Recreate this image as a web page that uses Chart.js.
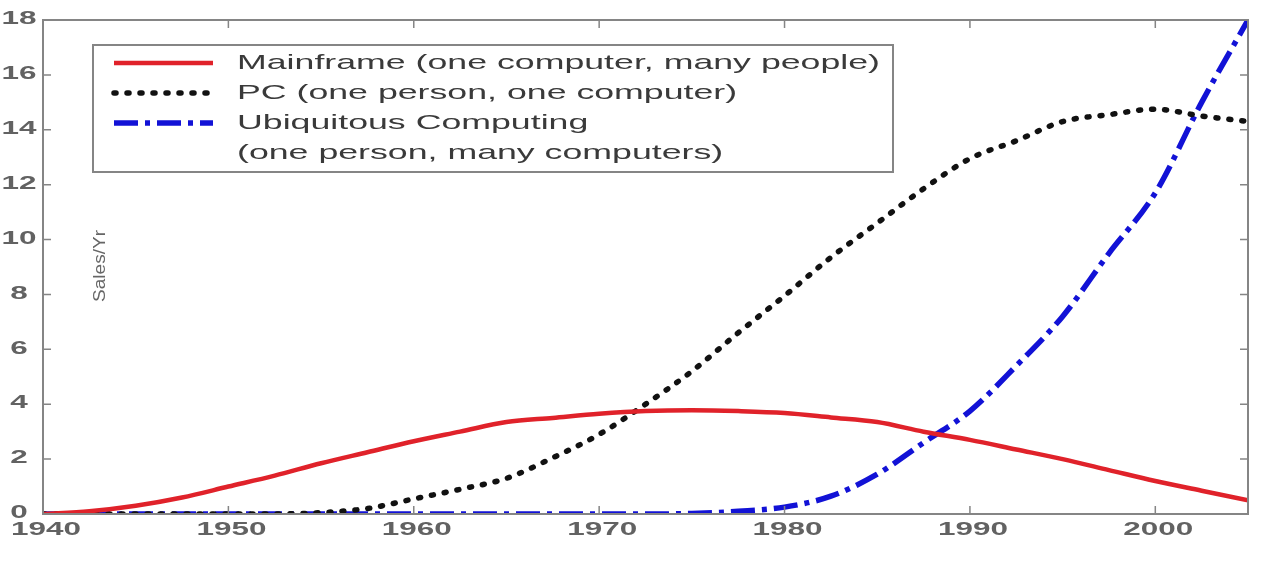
<!DOCTYPE html>
<html>
<head>
<meta charset="utf-8">
<script src="https://cdn.jsdelivr.net/npm/chart.js@4/dist/chart.umd.min.js"></script>
<style>
  html, body { margin: 0; padding: 0; background: #fff; }
  #wrap { width: 1287px; height: 562px; }
</style>
</head>
<body>
<div id="wrap"><canvas id="salesChart"></canvas></div>
<script>
// Years on the x axis (every 2.5 years)
const years = [1940, 1942.5, 1945, 1947.5, 1950, 1952.5, 1955, 1957.5, 1960, 1962.5,
               1965, 1967.5, 1970, 1972.5, 1975, 1977.5, 1980, 1982.5, 1985, 1987.5,
               1990, 1992.5, 1995, 1997.5, 2000, 2002.5, 2005];

// Sales/Yr
const mainframe = [0, 0.1, 0.3, 0.6, 1.0, 1.4, 1.85, 2.25, 2.65, 3.0,
                   3.35, 3.5, 3.65, 3.75, 3.78, 3.75, 3.68, 3.52, 3.35, 3.0,
                   2.7, 2.35, 2.0, 1.6, 1.2, 0.85, 0.5];
const pc = [0, 0, 0, 0, 0, 0, 0.05, 0.2, 0.55, 0.9,
            1.3, 2.05, 2.9, 4.0, 5.2, 6.6, 7.95, 9.35, 10.6, 11.85,
            12.95, 13.6, 14.3, 14.55, 14.75, 14.5, 14.3];
const ubiquitous = [0, 0, 0, 0, 0, 0, 0, 0, 0, 0,
                    0, 0, 0, 0, 0.02, 0.1, 0.25, 0.65, 1.45, 2.6,
                    3.75, 5.4, 7.2, 9.5, 11.7, 15.0, 18];

// Tick labels
const xTicks = [1940, 1950, 1960, 1970, 1980, 1990, 2000];
const yTicks = [0, 2, 4, 6, 8, 10, 12, 14, 16, 18];

const legendLabels = [
    ['Mainframe (one computer, many people)'],
    ['PC (one person, one computer)'],
    ['Ubiquitous Computing', '(one person, many computers)']
];

function points(values) {
    return years.map((y, i) => ({ x: y, y: values[i] }));
}

const RED = '#e0222a';
const BLACK = '#111111';
const BLUE = '#1212d6';
const AXIS = '#858585';

// draw text stretched horizontally
function stretchText(ctx, text, x, y, sx, align) {
    ctx.save();
    ctx.translate(x, y);
    ctx.scale(sx, 1);
    ctx.textAlign = align;
    ctx.fillText(text, 0, 0);
    ctx.restore();
}

const matlabAxes = {
    id: 'matlabAxes',
    afterDatasetsDraw(chart) {
        const ctx = chart.ctx;
        const a = chart.chartArea;
        const xs = chart.scales.x;
        const ys = chart.scales.y;

        ctx.save();
        // box
        ctx.strokeStyle = AXIS;
        ctx.lineWidth = 2;
        ctx.strokeRect(a.left, a.top, a.right - a.left, a.bottom - a.top);

        // inward ticks on all four sides
        ctx.lineWidth = 1.5;
        ctx.beginPath();
        xTicks.forEach(v => {
            const px = xs.getPixelForValue(v);
            ctx.moveTo(px, a.bottom); ctx.lineTo(px, a.bottom - 8);
            ctx.moveTo(px, a.top); ctx.lineTo(px, a.top + 8);
        });
        yTicks.forEach(v => {
            const py = ys.getPixelForValue(v);
            ctx.moveTo(a.left, py); ctx.lineTo(a.left + 8, py);
            ctx.moveTo(a.right, py); ctx.lineTo(a.right - 8, py);
        });
        ctx.stroke();

        // tick labels
        ctx.fillStyle = '#626262';
        ctx.font = 'bold 19px "Liberation Sans", Arial, sans-serif';
        ctx.textBaseline = 'middle';
        const sx = 70 / ctx.measureText('1940').width;
        xTicks.forEach(v => {
            stretchText(ctx, String(v), xs.getPixelForValue(v) + 3, a.bottom + 16, sx, 'center');
        });
        yTicks.forEach(v => {
            stretchText(ctx, String(v), 19, ys.getPixelForValue(v) - 1, sx, 'center');
        });

        // y axis title, inside the plot
        ctx.save();
        ctx.translate(101, 266);
        ctx.rotate(-Math.PI / 2);
        ctx.font = '16px "Liberation Sans", Arial, sans-serif';
        ctx.fillStyle = '#666';
        ctx.textAlign = 'center';
        ctx.textBaseline = 'middle';
        const tw = ctx.measureText('Sales/Yr').width;
        ctx.scale(72 / tw, 1);
        ctx.fillText('Sales/Yr', 0, 0);
        ctx.restore();

        // legend box
        const bx = 93, by = 45, bw = 800, bh = 127;
        ctx.fillStyle = '#fff';
        ctx.fillRect(bx, by, bw, bh);
        ctx.strokeStyle = AXIS;
        ctx.lineWidth = 2;
        ctx.strokeRect(bx, by, bw, bh);

        const rows = [63, 93, 123];
        chart.data.datasets.forEach((ds, i) => {
            ctx.save();
            ctx.strokeStyle = ds.borderColor;
            ctx.lineWidth = ds.borderWidth;
            ctx.lineCap = ds.borderCapStyle || 'butt';
            ctx.setLineDash(ds.borderDash || []);
            ctx.beginPath();
            ctx.moveTo(114, rows[i]);
            ctx.lineTo(213, rows[i]);
            ctx.stroke();
            ctx.restore();
        });

        ctx.fillStyle = '#3a3a3a';
        ctx.font = '21px "Liberation Sans", Arial, sans-serif';
        ctx.textBaseline = 'middle';
        const lsx = 643 / ctx.measureText(legendLabels[0][0]).width;
        legendLabels.forEach((lines, i) => {
            lines.forEach((t, k) => {
                stretchText(ctx, t, 237, rows[i] + k * 30, lsx, 'left');
            });
        });
        ctx.restore();
    }
};

const ctx = document.getElementById('salesChart').getContext('2d');
const salesChart = new Chart(ctx, {
    type: 'line',
    data: {
        datasets: [
            {
                label: 'Mainframe (one computer, many people)',
                data: points(mainframe),
                borderColor: RED,
                borderWidth: 4.5,
            },
            {
                label: 'PC (one person, one computer)',
                data: points(pc),
                borderColor: BLACK,
                borderWidth: 5.5,
                borderDash: [2, 11],
                borderCapStyle: 'round',
            },
            {
                label: 'Ubiquitous Computing (one person, many computers)',
                data: points(ubiquitous),
                borderColor: BLUE,
                borderWidth: 5.5,
                borderDash: [24, 7, 5, 7],
            }
        ]
    },
    options: {
        responsive: true,
        maintainAspectRatio: false,
        animation: false,
        layout: { padding: { left: 43, top: 20, right: 39, bottom: 48 } },
        elements: {
            point: { radius: 0 },
            line: { cubicInterpolationMode: 'monotone', fill: false }
        },
        scales: {
            x: { type: 'linear', min: 1940, max: 2005, display: false },
            y: { type: 'linear', min: 0, max: 18, display: false }
        },
        plugins: {
            legend: { display: false },
            tooltip: { enabled: false }
        }
    },
    plugins: [matlabAxes]
});
</script>
</body>
</html>
